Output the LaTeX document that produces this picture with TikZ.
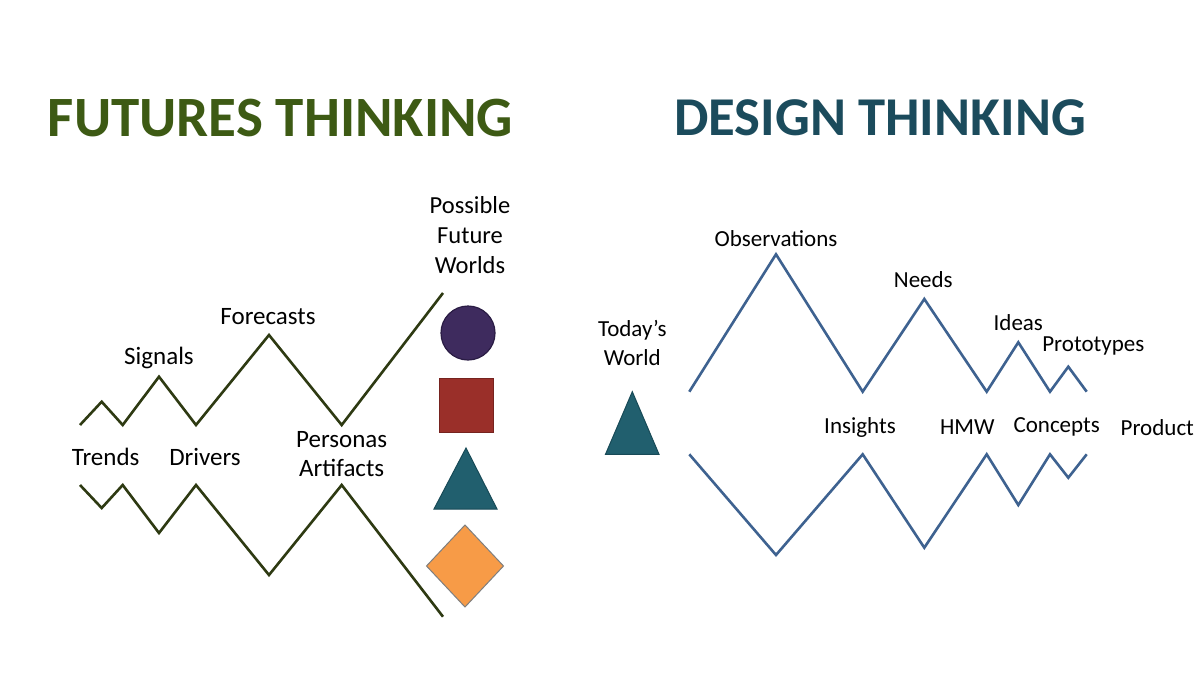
\documentclass[tikz,border=0pt]{standalone}
\usepackage{fontspec}
\setmainfont{Carlito}
\definecolor{futgreen}{HTML}{3D5A14}
\definecolor{futline}{HTML}{2E3A12}
\definecolor{desteal}{HTML}{1B4B5C}
\definecolor{desline}{HTML}{3E6290}
\definecolor{cpurple}{HTML}{3E2B5E}
\definecolor{cpurpled}{HTML}{2A1C44}
\definecolor{sred}{HTML}{9A2F29}
\definecolor{sredd}{HTML}{76231F}
\definecolor{tteal}{HTML}{215F6E}
\definecolor{ttealtd}{HTML}{184A57}
\definecolor{dorange}{HTML}{F79B47}
\definecolor{dgray}{HTML}{7F7F7F}
\tikzset{
  lbl/.style={inner sep=0pt, font=\fontsize{23}{29}\selectfont, align=center, text=black},
  flbl/.style={lbl, font=\fontsize{25}{29}\selectfont},
  ttl/.style={inner sep=0pt, font=\fontsize{56}{60}\selectfont\bfseries},
  fline/.style={futline, line width=2.6pt, line join=miter},
  dline/.style={desline, line width=2.6pt, line join=miter},
}
\begin{document}
\begin{tikzpicture}[x=1pt,y=-1pt]
\useasboundingbox (0,0) rectangle (1200,675);
\fill[white] (0,0) rectangle (1200,675);
% titles
\node[ttl, text=futgreen, font=\fontsize{57}{60}\selectfont\bfseries] (tfut) at (280.5,118) {FUTURES THINKING};
\node[ttl, text=desteal, font=\fontsize{54.7}{60}\selectfont\bfseries] (tdes) at (880,118) {DESIGN THINKING};
% futures lines
\draw[fline] (80,425) -- (101.7,401.7) -- (122.7,425) -- (159,376.7) -- (196,425) -- (269,335) -- (341.7,425) -- (443,293);
\draw[fline] (80,485) -- (101.7,508) -- (122.7,485) -- (159,533) -- (196,485) -- (269,575) -- (341.7,485) -- (443,616.7);
% futures labels
\node[flbl] (forecasts) at (268,316.7) {Forecasts};
\node[flbl] (signals) at (159,358) {Signals};
\node[flbl] (trends) at (105.7,456.7) {Trends};
\node[flbl] (drivers) at (205,456.7) {Drivers};
\node[flbl] (personas) at (341.7,454.5) {Personas\\Artifacts};
\node[lbl, font=\fontsize{24.5}{30}\selectfont] (pfw) at (470,235) {Possible\\Future\\Worlds};
% shapes
\draw[cpurpled, line width=1.2pt, fill=cpurple] (468,333) circle (27);
\draw[sredd, line width=1pt, fill=sred] (439,378) rectangle (493,432);
\draw[ttealtd, line width=1pt, fill=tteal] (466,448) -- (497,509) -- (434,509) -- cycle;
\draw[dgray, line width=1pt, fill=dorange] (465,525) -- (503.5,566) -- (465,607) -- (426.5,566) -- cycle;
% design
\draw[ttealtd, line width=1pt, fill=tteal] (632.3,391.7) -- (659,454.3) -- (605.5,454.3) -- cycle;
\node[lbl] (today) at (632.3,342.5) {Today’s\\World};
\draw[dline] (689.3,391.7) -- (776,254.3) -- (862.7,391.7) -- (924.3,299) -- (986.7,391.7) -- (1018.3,342.3) -- (1050,391.7) -- (1068.3,366.7) -- (1086.7,391.7);
\draw[dline] (689.3,454.3) -- (776,555) -- (862.7,454.3) -- (924.3,547.7) -- (986.7,454.3) -- (1018.3,505) -- (1050,454.3) -- (1068.3,477.7) -- (1086.7,454.3);
\node[lbl] (obs) at (776,238.3) {Observations};
\node[lbl] (needs) at (923.3,280) {Needs};
\node[lbl] (ideas) at (1018.3,322.7) {Ideas};
\node[lbl] (proto) at (1093.3,346) {Prototypes};
\node[lbl] (insights) at (860,427.3) {Insights};
\node[lbl] (hmw) at (967.3,427.3) {HMW};
\node[lbl] (concepts) at (1056.7,427.3) {Concepts};
\node[lbl] (product) at (1157.3,427.3) {Product};
\end{tikzpicture}
\end{document}
